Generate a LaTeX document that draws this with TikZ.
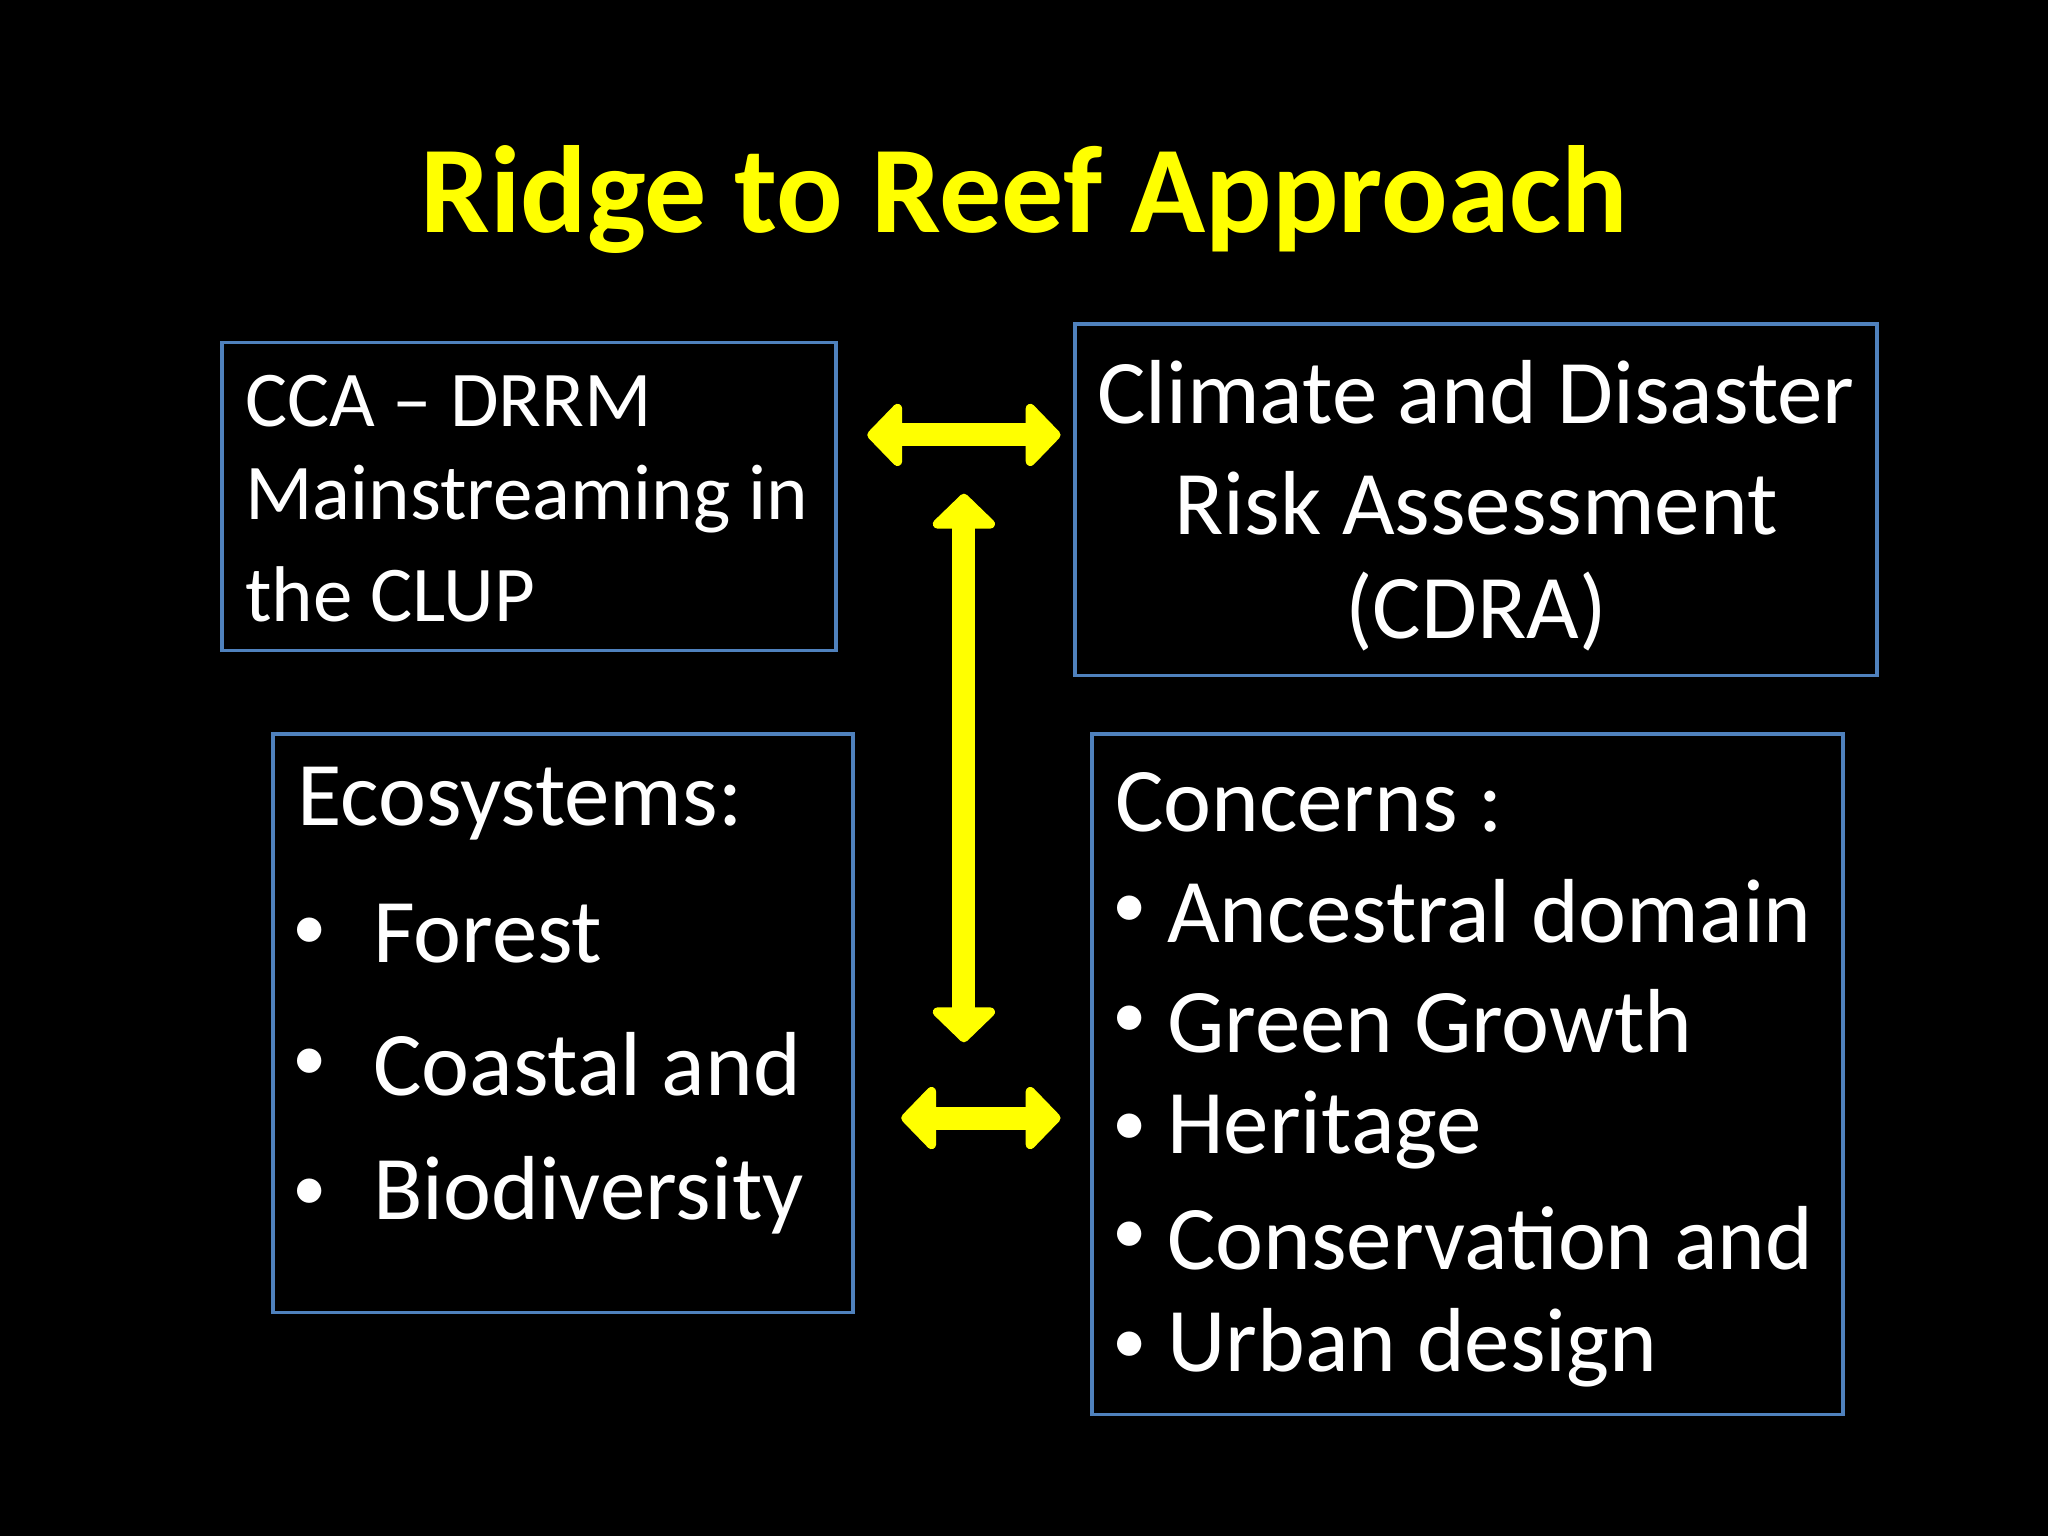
\documentclass[tikz,border=0pt]{standalone}
\usepackage{fontspec}
\setmainfont{Carlito}
\usetikzlibrary{arrows.meta}
\definecolor{ylw}{RGB}{255,255,0}
\definecolor{bx}{RGB}{79,129,189}
\begin{document}
\begin{tikzpicture}[x=0.01cm,y=-0.01cm,
  box/.style={draw=bx,line width=0.7pt},
  txt/.style={text=white,font=\fontsize{19.8}{23}\selectfont,inner sep=0pt},
  smtxt/.style={text=white,font=\fontsize{17.2}{20}\selectfont,inner sep=0pt},
  blt/.style={text=white,font=\fontsize{15}{18}\selectfont,inner sep=0pt},
  dbl/.style={draw=ylw,line width=5pt,{Triangle[width=16pt,length=8pt,round]}-{Triangle[width=16pt,length=8pt,round]}}]
\fill[black] (0,0) rectangle (1568,1176);
\useasboundingbox (0,0) rectangle (1568,1176);
\node[text=ylw,font=\fontsize{27}{32}\selectfont\bfseries,inner sep=0pt] (title) at (784,153) {Ridge to Reef Approach};
\draw[box] (170,262) rectangle (640,498);
\draw[box] (823,248) rectangle (1437,517);
\draw[box] (209,562) rectangle (653,1005);
\draw[box] (836,562) rectangle (1411,1083);
\node[smtxt,anchor=west] (a1) at (187,307) {CCA – DRRM};
\node[smtxt,anchor=west] (a2) at (187,382) {Mainstreaming in};
\node[smtxt,anchor=west] (a3) at (187,455) {the CLUP};
\node[txt] (b1) at (1130,300) {Climate and Disaster};
\node[txt] (b2) at (1130,385) {Risk Assessment};
\node[txt] (b3) at (1130,468) {(CDRA)};
\node[txt,anchor=west] (c0) at (227,615) {Ecosystems:};
\foreach \y/\t [count=\i] in {715/Forest,815/Coastal and,915/Biodiversity}{
  \node[blt] (cb\i) at (237,\y) {•};
  \node[txt,anchor=west] (c\i) at (285,\y) {\t};}
\node[txt,anchor=west] (d0) at (853,614) {Concerns :};
\foreach \y/\t [count=\i] in {698/Ancestral domain,782/Green Growth,865/Heritage,948/Conservation and,1032/Urban design}{
  \node[blt] (db\i) at (865,\y) {•};
  \node[txt,anchor=west] (d\i) at (893,\y) {\t};}
\coordinate (h1a) at (664,333); \coordinate (h1b) at (812,333);
\coordinate (va) at (738,378); \coordinate (vb) at (738,798);
\coordinate (h2a) at (690,856); \coordinate (h2b) at (812,856);
\draw[dbl] (h1a) -- (h1b);
\draw[dbl] (va) -- (vb);
\draw[dbl] (h2a) -- (h2b);
\end{tikzpicture}
\end{document}
